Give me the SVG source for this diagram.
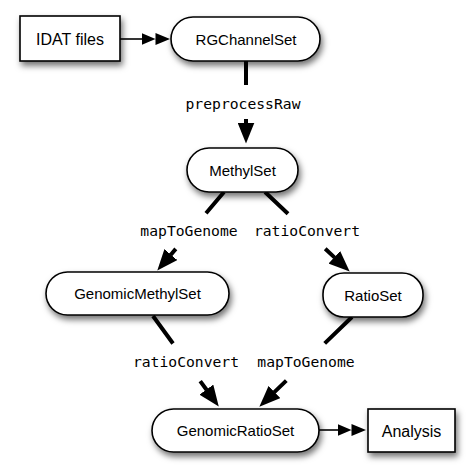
<svg xmlns="http://www.w3.org/2000/svg" width="473" height="473" viewBox="0 0 473 473">
<style>
.node{fill:#fff;stroke:#000;stroke-width:1.6;filter:url(#sh)}
.nt{font-family:"Liberation Sans",Arial,sans-serif;font-size:15px;text-anchor:middle;fill:#000}
.bt{font-size:16px}
.lbl{font-family:"DejaVu Sans Mono","Liberation Mono",monospace;font-size:14.7px;text-anchor:middle;fill:#000}
.thick{fill:none;stroke:#000;stroke-width:4;marker-end:url(#tri)}
.thin{fill:none;stroke:#000;stroke-width:1.6;marker-end:url(#dbl)}
</style>
<defs>
<filter id="sh" x="-20%" y="-30%" width="140%" height="170%">
<feDropShadow dx="2" dy="4" stdDeviation="3" flood-color="#000" flood-opacity="0.55"/>
</filter>
<marker id="tri" markerUnits="userSpaceOnUse" markerWidth="22" markerHeight="17" viewBox="0 0 22 17" refX="0.5" refY="8.5" orient="auto">
<path d="M0,0 L21,8.5 L0,17 z" fill="#000"/>
</marker>
<marker id="dbl" markerUnits="userSpaceOnUse" markerWidth="29" markerHeight="12" viewBox="0 0 29 12" refX="0.5" refY="6" orient="auto">
<path d="M0,0 L14,6 L0,12 z M14,0 L28.5,6 L14,12 z" fill="#000"/>
</marker>
</defs>
<rect width="473" height="473" fill="#fff"/>
<g id="connectors">
<path class="thin" d="M120,39 L142,39"/>
<path class="thin" d="M319,430 L338,430"/>
<path class="thick" d="M246,61 L246,85 M246,119 L246,123"/>
<path class="thick" d="M224,192 L206,213.2 M175.8,248.9 L170.6,255"/>
<path class="thick" d="M265,192 L288,213.7 M325.2,248.7 L334.7,257.6"/>
<path class="thick" d="M153,316 L173,343.5 M200.2,381.1 L206.7,390"/>
<path class="thick" d="M352,317 L324.7,343.4 M286.3,380.6 L274.1,392.4"/>
</g>
<g id="labels">
<text class="lbl" x="243" y="108.5">preprocessRaw</text>
<text class="lbl" x="189" y="236">mapToGenome</text>
<text class="lbl" x="307" y="236">ratioConvert</text>
<text class="lbl" x="186" y="367">ratioConvert</text>
<text class="lbl" x="306" y="367">mapToGenome</text>
</g>
<g id="idat">
<rect class="node" x="20" y="16" width="100" height="45"/>
<text class="nt bt" x="70" y="45">IDAT files</text>
</g>
<g id="rgchannelset">
<rect class="node" x="171" y="17" width="149" height="44" rx="22"/>
<text class="nt" x="246" y="44.5">RGChannelSet</text>
</g>
<g id="methylset">
<rect class="node" x="187" y="148" width="111" height="44" rx="22"/>
<text class="nt" x="242.5" y="175.5">MethylSet</text>
</g>
<g id="genomicmethylset">
<rect class="node" x="46" y="272" width="183" height="43" rx="21.5"/>
<text class="nt" x="137.5" y="299">GenomicMethylSet</text>
</g>
<g id="ratioset">
<rect class="node" x="323" y="273" width="100" height="44" rx="21"/>
<text class="nt" x="373" y="300.5">RatioSet</text>
</g>
<g id="genomicratioset">
<rect class="node" x="152" y="409" width="167" height="43" rx="21.5"/>
<text class="nt" x="235.5" y="436">GenomicRatioSet</text>
</g>
<g id="analysis">
<rect class="node" x="368" y="409" width="87" height="43"/>
<text class="nt bt" x="411.5" y="436.5">Analysis</text>
</g>
</svg>
